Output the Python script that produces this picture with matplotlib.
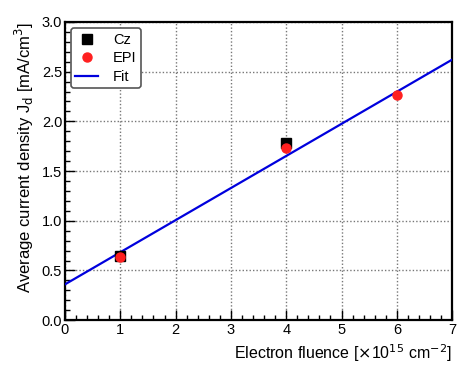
import matplotlib.pyplot as plt
import numpy as np
from matplotlib.ticker import MultipleLocator

plt.rcParams['font.family'] = ['Liberation Sans', 'DejaVu Sans']

# Data
cz_fluence = [1, 4]
cz_current = [0.65, 1.78]
epi_fluence = [1, 4, 6]
epi_current = [0.64, 1.73, 2.26]
fit_intercept = 0.36
fit_slope = 0.323

fig = plt.figure(figsize=(4.74, 3.78), dpi=100)
ax = fig.add_axes([0.137, 0.153, 0.817, 0.789])

xfit = np.array([0, 7])
ax.plot(xfit, fit_intercept + fit_slope * xfit, color='#0000dd', lw=1.6, label='Fit', zorder=3)
ax.plot(cz_fluence, cz_current, 's', color='black', ms=6.5, label='Cz', zorder=4)
ax.plot(epi_fluence, epi_current, 'o', color='#ff2020', ms=6.5, label='EPI', zorder=5)

ax.set_xlim(0, 7)
ax.set_ylim(0, 3)
ax.xaxis.set_major_locator(MultipleLocator(1))
ax.xaxis.set_minor_locator(MultipleLocator(0.2))
ax.yaxis.set_major_locator(MultipleLocator(0.5))
ax.yaxis.set_minor_locator(MultipleLocator(0.1))
ax.yaxis.set_major_formatter(plt.FormatStrFormatter('%.1f'))
ax.tick_params(which='both', direction='in', labelsize=10.5, pad=2)
ax.tick_params(which='major', length=7, width=1)
ax.tick_params(which='minor', length=3.5, width=1)
for s in ax.spines.values():
    s.set_linewidth(1.6)

ax.grid(True, which='major', ls=(0, (1, 1.5)), color='#777777', lw=1.0)

ax.set_xlabel('Electron fluence [$\\times$10$^{15}$ cm$^{-2}$]', fontsize=11.5, loc='right')
ax.set_ylabel('Average current density J$_{\\rm d}$ [mA/cm$^{3}$]', fontsize=12, loc='top')

handles, labels = ax.get_legend_handles_labels()
order = [1, 2, 0]
leg = ax.legend([handles[i] for i in order], [labels[i] for i in order],
                loc='upper left', bbox_to_anchor=(0.015, 0.978), fontsize=10.5,
                frameon=True, fancybox=True, edgecolor='#555555', framealpha=1,
                handlelength=1.6, borderpad=0.3, labelspacing=0.3,
                handletextpad=1.0, borderaxespad=0)
leg.get_frame().set_linewidth(1.2)

fig.savefig('out.png', dpi=100)
